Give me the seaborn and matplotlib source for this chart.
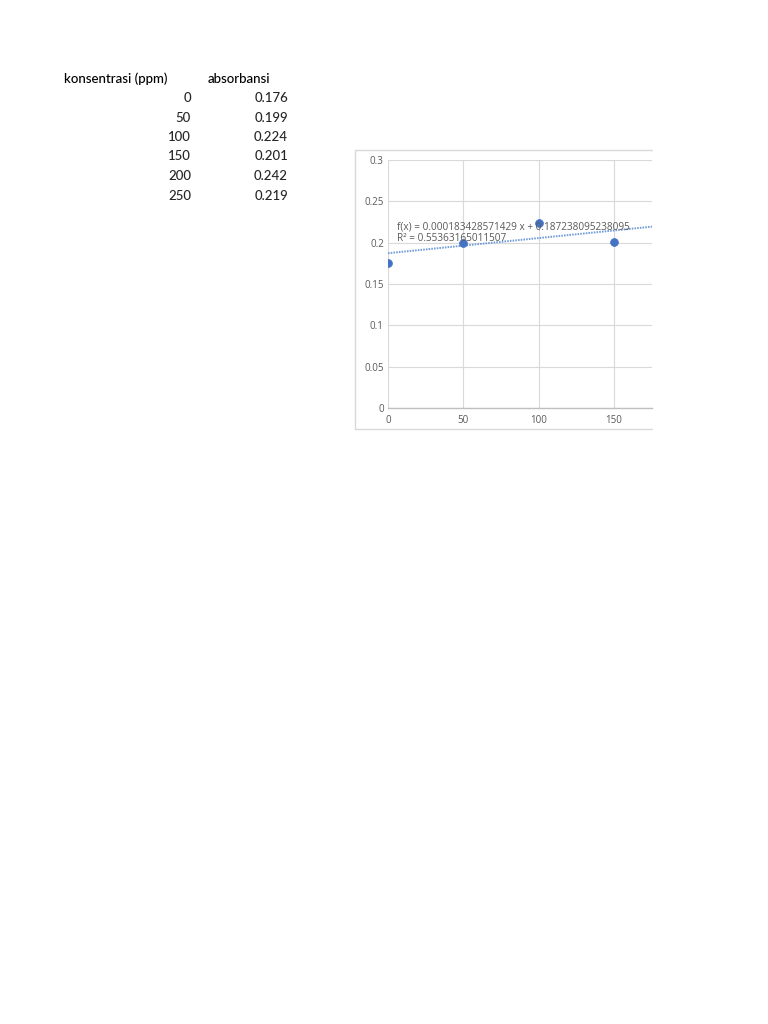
import numpy as np
import pandas as pd
import matplotlib
matplotlib.use("Agg")
import matplotlib.pyplot as plt
import seaborn as sns

konsentrasi = [0, 50, 100, 150, 200, 250]
absorbansi = [0.176, 0.199, 0.224, 0.201, 0.242, 0.219]
x_ticks = [0, 50, 100, 150]
y_ticks = [0, 0.05, 0.1, 0.15, 0.2, 0.25, 0.3]
y_labels = ["0", "0.05", "0.1", "0.15", "0.2", "0.25", "0.3"]

df = pd.DataFrame({"konsentrasi": konsentrasi, "absorbansi": absorbansi})

sns.set_style("white")
plt.rcParams["font.family"] = ["Lato", "DejaVu Sans"]

W, H = 768, 1024
fig = plt.figure(figsize=(W / 100, H / 100), dpi=100)
fig.patch.set_facecolor("white")


def fx(px):
    return px / W


def fy(py):
    return 1 - py / H


# spreadsheet table
fig.text(fx(64), fy(79), "konsentrasi (ppm)", fontsize=9.5, color="black",
         va="center", ha="left", weight="medium")
fig.text(fx(208), fy(79), "absorbansi", fontsize=9.5, color="black",
         va="center", ha="left", weight="medium")
row_y = [98, 117.5, 137, 156.5, 176, 195.5]
for k, a, yy in zip(konsentrasi, absorbansi, row_y):
    fig.text(fx(191), fy(yy), str(k), fontsize=9.5, ha="right", va="center", weight="medium")
    fig.text(fx(288), fy(yy), f"{a:.3f}", fontsize=9.5, ha="right", va="center", weight="medium")

# chart frame (clipped at the right)
frame_col = "#d9d9d9"
fig.add_artist(plt.Line2D([fx(354.5), fx(354.5)], [fy(150), fy(429)], color=frame_col, lw=1))
fig.add_artist(plt.Line2D([fx(354.5), fx(652)], [fy(150), fy(150)], color=frame_col, lw=1))
fig.add_artist(plt.Line2D([fx(354.5), fx(652)], [fy(429), fy(429)], color=frame_col, lw=1))

# plot area
x0, x1 = 388, 652
y0, y1 = 408, 160
ax = fig.add_axes([fx(x0), fy(y0), fx(x1) - fx(x0), fy(y1) - fy(y0)])
px_per_unit = (614 - 388) / 150
xmax = (x1 - x0) / px_per_unit
ax.set_xlim(0, xmax)
ax.set_ylim(0, 0.3)

ax.set_xticks(x_ticks)
ax.set_yticks(y_ticks)
ax.set_yticklabels(y_labels)
ax.grid(True, color="#d9d9d9", lw=0.8)
ax.set_axisbelow(True)
for s in ["top", "right", "left"]:
    ax.spines[s].set_visible(False)
ax.spines["bottom"].set_color("#bfbfbf")
ax.spines["bottom"].set_linewidth(1)
ax.tick_params(axis="y", length=0, labelsize=7, labelcolor="#595959", pad=3)
ax.tick_params(axis="x", length=0, labelsize=7, labelcolor="#595959", pad=5)
for lab in ax.get_xticklabels() + ax.get_yticklabels():
    lab.set_fontfamily(["Open Sans", "DejaVu Sans"])

# linear trend line
slope, intercept = np.polyfit(konsentrasi, absorbansi, 1)
pred = slope * np.array(konsentrasi) + intercept
ss_res = np.sum((np.array(absorbansi) - pred) ** 2)
ss_tot = np.sum((np.array(absorbansi) - np.mean(absorbansi)) ** 2)
r2 = 1 - ss_res / ss_tot
xs = np.array([0, xmax])
ax.plot(xs, slope * xs + intercept, color="#6f9bd8", lw=1.4, ls=(0, (0.8, 0.6)), zorder=2)

sns.scatterplot(data=df, x="konsentrasi", y="absorbansi", ax=ax, color="#4472c4",
                s=32, edgecolor="#4472c4", linewidth=0.5, zorder=3, clip_on=True)
ax.set_xlabel("")
ax.set_ylabel("")

ax.text(6, 0.2195, f"f(x) = {slope:.15f} x + {intercept:.15f}", fontsize=7.2,
        color="#595959", va="center", ha="left", family=["Open Sans", "DejaVu Sans"], zorder=4)
ax.text(6, 0.2055, f"R² = {r2:.14f}", fontsize=7.2,
        color="#595959", va="center", ha="left", family=["Open Sans", "DejaVu Sans"], zorder=4)

fig.savefig("out.png", dpi=100)
